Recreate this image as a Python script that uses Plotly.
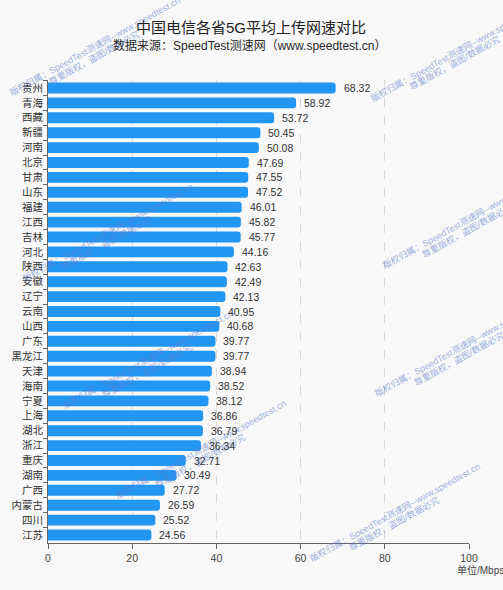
import plotly.graph_objects as go

provinces = ["贵州", "青海", "西藏", "新疆", "河南", "北京", "甘肃", "山东", "福建", "江西",
             "吉林", "河北", "陕西", "安徽", "辽宁", "云南", "山西", "广东", "黑龙江", "天津",
             "海南", "宁夏", "上海", "湖北", "浙江", "重庆", "湖南", "广西", "内蒙古", "四川", "江苏"]
upload_mbps = [68.32, 58.92, 53.72, 50.45, 50.08, 47.69, 47.55, 47.52, 46.01, 45.82,
               45.77, 44.16, 42.63, 42.49, 42.13, 40.95, 40.68, 39.77, 39.77, 38.94,
               38.52, 38.12, 36.86, 36.79, 36.34, 32.71, 30.49, 27.72, 26.59, 25.52, 24.56]
x_ticks = [0, 20, 40, 60, 80, 100]

FONT = "'Liberation Sans', Arial, 'Noto Sans CJK SC', sans-serif"
BG = "#f8f8f8"
BAR = "#2196f3"

W, H = 503, 590
ML, MR, MT, MB = 48, 34, 80, 47
PW, PH = W - ML - MR, H - MT - MB


def px(x):
    return (x - ML) / PW


def py(y):
    return (H - MB - y) / PH


fig = go.Figure()
fig.add_trace(go.Bar(
    x=upload_mbps, y=provinces, orientation="h",
    marker=dict(color=BAR, line=dict(width=0), cornerradius=3),
    hoverinfo="skip",
))

annotations = []

# watermarks (drawn first so they sit under other text)
wm1 = "版权归属：SpeedTest测速网--www.speedtest.cn"
wm2 = "尊重版权，盗图/数据必究"
WM_COLOR = "rgba(95,125,205,0.62)"
wm_pos = [(94, 46), (455, 52), (107, 232), (467, 219), (459, 347), (147, 359), (200, 449), (394, 512)]
for (cx, cy) in wm_pos:
    annotations.append(dict(x=px(cx), y=py(cy), xref="paper", yref="paper",
                            text=wm1, showarrow=False, textangle=-29,
                            xanchor="center", yanchor="middle",
                            font=dict(size=9, color=WM_COLOR, family=FONT)))
    annotations.append(dict(x=px(cx), y=py(cy + 11), xref="paper", yref="paper",
                            text=wm2, showarrow=False, textangle=-29,
                            xanchor="center", yanchor="middle",
                            font=dict(size=9, color=WM_COLOR, family=FONT)))

for p, v in zip(provinces, upload_mbps):
    annotations.append(dict(x=v, y=p, xref="x", yref="y", text=f"{v:.2f}",
                            showarrow=False, xanchor="left", xshift=6,
                            font=dict(size=10.5, color="#333333", family=FONT)))

annotations.append(dict(x=px(480), y=py(570), xref="paper", yref="paper", text="单位/Mbps",
                        showarrow=False, xanchor="center", yanchor="middle",
                        font=dict(size=10, color="#444444", family=FONT)))

# title / subtitle
annotations.append(dict(x=px(251), y=py(27), xref="paper", yref="paper",
                        text="中国电信各省5G平均上传网速对比", showarrow=False,
                        xanchor="center", yanchor="middle",
                        font=dict(size=15, color="#222222", family=FONT)))
annotations.append(dict(x=px(249), y=py(45), xref="paper", yref="paper",
                        text="数据来源：SpeedTest测速网（www.speedtest.cn）", showarrow=False,
                        xanchor="center", yanchor="middle",
                        font=dict(size=12, color="#2a2a2a", family=FONT)))

fig.update_layout(
    width=W, height=H,
    margin=dict(l=ML, r=MR, t=MT, b=MB),
    paper_bgcolor=BG, plot_bgcolor=BG,
    bargap=0.27,
    showlegend=False,
    font=dict(family=FONT, color="#333333"),
    xaxis=dict(
        range=[0, 100], tickvals=x_ticks, ticktext=[str(t) for t in x_ticks],
        showgrid=True, gridcolor="#d9d9d9", griddash="dash", gridwidth=1,
        zeroline=False, showline=True, linecolor="#666666", linewidth=1,
        ticks="outside", ticklen=5, tickcolor="#666666",
        tickfont=dict(size=10.5, color="#444444"), fixedrange=True,
    ),
    yaxis=dict(
        autorange="reversed", showgrid=False, zeroline=False,
        showline=True, linecolor="#666666", linewidth=1,
        ticks="outside", ticklen=4, tickcolor="#666666", tickson="boundaries",
        ticklabelstandoff=2,
        tickfont=dict(size=10.5, color="#333333"), fixedrange=True,
    ),
    annotations=annotations,
)

fig.write_html("out.html")
